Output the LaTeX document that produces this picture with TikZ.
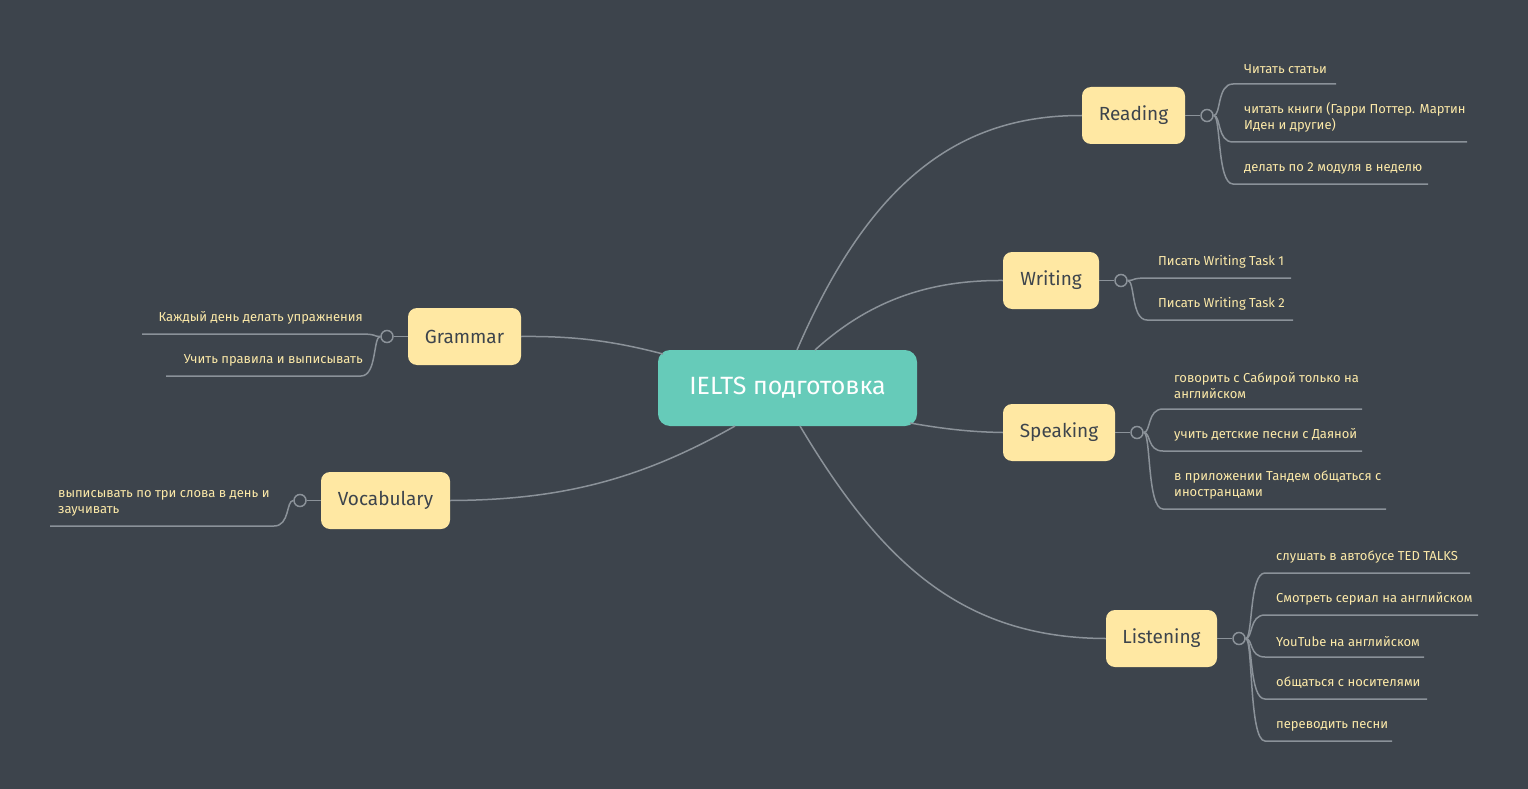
\documentclass[tikz,border=0pt]{standalone}
\usepackage{fontspec}
\setmainfont{Fira Sans}
\definecolor{bg}{HTML}{3D444C}
\definecolor{teal}{HTML}{66CBB9}
\definecolor{yel}{HTML}{FFE8A3}
\definecolor{leaf}{HTML}{FCE9A8}
\definecolor{ln}{HTML}{8B9299}
\newcommand{\rleaf}[7]{% circle name, cx, cy, uy, x1, node name, text
  \node[leaftext,anchor=south west] (#6) at (#2+37,#4-10) {#7};
  \draw[conn] (#1.east) .. controls (#2+14,#3) and (#2+10,#4) .. (#2+26,#4) -- (#5,#4);}
\newcommand{\lleaf}[7]{%
  \node[leaftext,anchor=south east] (#6) at (#2-24,#4-10) {#7};
  \draw[conn] (#1.west) .. controls (#2-14,#3) and (#2-10,#4) .. (#2-26,#4) -- (#5,#4);}
\begin{document}
\begin{tikzpicture}[x=1pt,y=-1pt,
  conn/.style={draw=ln,line width=1.5pt},
  branch/.style={fill=yel,rounded corners=9pt,text=bg,font=\fontsize{19}{22}\selectfont,inner sep=0pt},
  leaftext/.style={text=leaf,font=\fontsize{13}{16}\selectfont,align=left,inner sep=0pt},
  dot/.style={circle,draw=ln,line width=1.5pt,fill=bg,minimum size=12pt,inner sep=0pt}]
\fill[bg] (0,0) rectangle (1528,789);
\useasboundingbox (0,0) rectangle (1528,789);
\node[fill=teal,rounded corners=12pt,text=white,font=\fontsize{25}{30}\selectfont,minimum width=259pt,minimum height=76pt,inner sep=0pt] (c) at (787.5,388) {IELTS подготовка};
\node[branch,minimum width=103pt,minimum height=57pt] (rd) at (1133.5,115.5) {Reading};
\node[branch,minimum width=96pt,minimum height=57pt] (wr) at (1051,280.5) {Writing};
\node[branch,minimum width=112pt,minimum height=57pt] (sp) at (1059,432.5) {Speaking};
\node[branch,minimum width=111pt,minimum height=57pt] (ls) at (1161.5,638.5) {Listening};
\node[branch,minimum width=113pt,minimum height=57pt] (gr) at (464.5,336.5) {Grammar};
\node[branch,minimum width=129pt,minimum height=57pt] (vc) at (385.5,500.5) {Vocabulary};
% main connectors
\draw[conn] (797,350) .. controls (870,180) and (960,115) .. (rd.west);
\draw[conn] (815,350) .. controls (870,300) and (930,280) .. (wr.west);
\draw[conn] (910,423) .. controls (950,430) and (975,432) .. (sp.west);
\draw[conn] (800,426) .. controls (880,560) and (960,638) .. (ls.west);
\draw[conn] (663,354) .. controls (610,340) and (570,336) .. (gr.east);
\draw[conn] (735,426) .. controls (640,480) and (560,500) .. (vc.east);
% dots
\node[dot] (rdd) at (1207,115.5) {};
\node[dot] (wrd) at (1121,280.5) {};
\node[dot] (spd) at (1137,432.5) {};
\node[dot] (lsd) at (1239,638.5) {};
\node[dot] (grd) at (387,336.5) {};
\node[dot] (vcd) at (300,500.5) {};
\draw[conn] (rd.east) -- (rdd.west);
\draw[conn] (wr.east) -- (wrd.west);
\draw[conn] (sp.east) -- (spd.west);
\draw[conn] (ls.east) -- (lsd.west);
\draw[conn] (gr.west) -- (grd.east);
\draw[conn] (vc.west) -- (vcd.east);
% leaves
\rleaf{rdd}{1207}{115.5}{84}{1336}{r1}{Читать статьи}
\rleaf{rdd}{1207}{115.5}{142}{1467}{r2}{читать книги (Гарри Поттер. Мартин\\Иден и другие)}
\rleaf{rdd}{1207}{115.5}{184}{1428}{r3}{делать по 2 модуля в неделю}
\rleaf{wrd}{1121}{280.5}{278}{1291}{w1}{Писать Writing Task 1}
\rleaf{wrd}{1121}{280.5}{320}{1293}{w2}{Писать Writing Task 2}
\rleaf{spd}{1137}{432.5}{409}{1362}{s1}{говорить с Сабирой только на\\английском}
\rleaf{spd}{1137}{432.5}{451}{1362}{s2}{учить детские песни с Даяной}
\rleaf{spd}{1137}{432.5}{509}{1386}{s3}{в приложении Тандем общаться с\\иностранцами}
\rleaf{lsd}{1239}{638.5}{573}{1470}{l1}{слушать в автобусе TED TALKS}
\rleaf{lsd}{1239}{638.5}{615}{1478}{l2}{Смотреть сериал на английском}
\rleaf{lsd}{1239}{638.5}{657}{1424}{l3}{YouTube на английском}
\rleaf{lsd}{1239}{638.5}{699}{1427}{l4}{общаться с носителями}
\rleaf{lsd}{1239}{638.5}{741}{1392}{l5}{переводить песни}
\lleaf{grd}{387}{336.5}{334}{142}{g1}{Каждый день делать упражнения}
\lleaf{grd}{387}{336.5}{376}{166}{g2}{Учить правила и выписывать}
\node[leaftext,anchor=south west] (v1) at (58,516) {выписывать по три слова в день и\\заучивать};
\draw[conn] (vcd.west) .. controls (286,500.5) and (290,526) .. (274,526) -- (50,526);
\end{tikzpicture}
\end{document}
